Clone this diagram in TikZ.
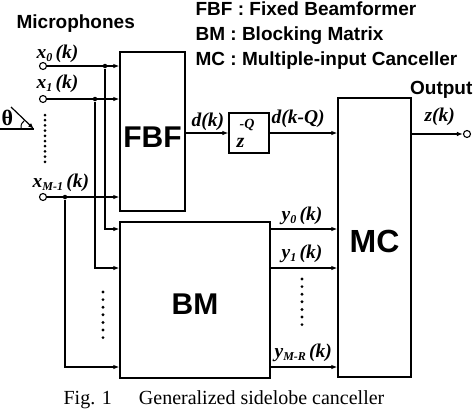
\documentclass[tikz,border=0pt]{standalone}
\usepackage{fontspec}
\setmainfont{Liberation Sans}
\newfontfamily\serifit{Liberation Serif}
\usetikzlibrary{arrows.meta}
\newcommand\sig[2]{{\serifit\bfseries\itshape #1\raisebox{-3.5pt}{\fontsize{12}{12}\selectfont #2}\,(k)}}
\newcommand\lowr[2]{\raisebox{-#1}[\height][\depth]{#2}}
\begin{document}
\begin{tikzpicture}[x=1pt,y=-1pt,
  line width=1.2pt,
  arr/.style={-{Latex[length=6pt,width=4.5pt]}},
  blk/.style={draw,line width=1.3pt,inner sep=0pt,font=\fontsize{30}{30}\selectfont\bfseries},
  mic/.style={draw,circle,fill=white,inner sep=0pt,minimum size=7pt,line width=1.1pt},
  jdot/.style={circle,fill=black,inner sep=0pt,minimum size=4.5pt},
  txt/.style={anchor=base west,inner sep=0pt,font=\fontsize{19}{22}\selectfont\bfseries},
  sg/.style={anchor=base west,inner sep=0pt,font=\fontsize{19.5}{20}\selectfont}]
\useasboundingbox (0,0) rectangle (474,410);

% blocks
\node[blk,minimum width=65pt,minimum height=159pt] (fbf) at (152.5,131.5) {\lowr{6pt}{FBF}};
\node[blk,minimum width=150pt,minimum height=156pt] (bm) at (195,300) {\lowr{4pt}{BM}};
\node[blk,minimum width=73pt,minimum height=279pt,font=\fontsize{32}{32}\selectfont\bfseries] (mc) at (374.5,237.5) {\lowr{4pt}{MC}};
\node[draw,line width=1.2pt,minimum width=40pt,minimum height=40pt,inner sep=0pt] (zq) at (249,133) {};
\node[anchor=base west,inner sep=0pt,font=\fontsize{20}{20}\selectfont\serifit\bfseries\itshape] (zz) at (236,147) {z};
\node[anchor=base west,inner sep=0pt,font=\fontsize{14}{14}\selectfont\serifit\bfseries\itshape] (zexp) at (239,128) {-Q};

% microphones
\node[mic] (m0) at (43,66) {};
\node[mic] (m1) at (43,99) {};
\node[mic] (mM) at (43,197) {};
\node[jdot] (j0) at (105,66) {};
\node[jdot] (j1) at (95,99) {};
\node[jdot] (jM) at (65,197) {};

\path (bm.west) ++(0,-71) coordinate (b0);
\path (bm.west) ++(0,-32) coordinate (b1);
\path (bm.west) ++(0,67) coordinate (bM);

\draw[arr] (m0) -- (m0 -| fbf.west);
\draw[arr] (m1) -- (m1 -| fbf.west);
\draw[arr] (mM) -- (mM -| fbf.west);
\draw[arr] (j0) |- (b0);
\draw[arr] (j1) |- (b1);
\draw[arr] (jM) |- (bM);

\draw[arr] (bm.east |- b0) -- (mc.west |- b0);
\draw[arr] (bm.east |- b1) -- (mc.west |- b1);
\draw[arr] (bm.east |- bM) -- (mc.west |- bM);

\draw[arr] (fbf.east |- zq) -- (zq.west);
\draw[arr] (zq.east) -- (zq.east -| mc.west);
\node[mic] (out) at (467,134) {};
\draw[arr] (mc.east |- out) -- (out.west);

% dots
\foreach \i in {0,...,9} \fill (45,115+5.2*\i) circle (1.5pt);
\foreach \i in {0,...,6} \fill (103,292+7.6*\i) circle (1.6pt);
\foreach \i in {0,...,6} \fill (302,279+7.6*\i) circle (1.6pt);

% theta
\coordinate (tv) at (34,129);
\coordinate (ts) at (11,107);
\draw (0,129) -- (tv);
\draw[arr] (ts) -- (tv);
\draw[line width=1pt] (21,129) .. controls (21,124) .. (24.5,120.5);
\node[anchor=base west,inner sep=0pt,font=\fontsize{22}{22}\selectfont\serifit\bfseries] (th) at (1,125) {θ};

% texts
\node[txt] (tmic) at (16,28) {Microphones};
\node[txt] (t1) at (195,15) {FBF : Fixed Beamformer};
\node[txt] (t2) at (195,40) {BM :\ Blocking Matrix};
\node[txt] (t3) at (195,65) {MC :\ Multiple-input Canceller};
\node[txt,anchor=base east] (tout) at (473,94) {Output};

\node[sg] (lx0) at (36,58) {\sig{x}{0}};
\node[sg] (lx1) at (36,88) {\sig{x}{1}};
\node[sg] (lxM) at (32,187) {\sig{x}{M-1}};
\node[sg] (ld) at (191,126) {{\serifit\bfseries\itshape d(k)}};
\node[sg] (ldq) at (271,123) {{\serifit\bfseries\itshape d(k-Q)}};
\node[sg] (lz) at (424,121) {{\serifit\bfseries\itshape z(k)}};
\node[sg] (ly0) at (281,220) {\sig{y}{0}};
\node[sg] (ly1) at (281,258) {\sig{y}{1}};
\node[sg] (lyM) at (274,357) {\sig{y}{M-R}};

\node[anchor=base west,inner sep=0pt,font=\fontsize{20}{20}\selectfont\serifit] (cap) at (63,404) {Fig. 1\hspace{27pt}Generalized sidelobe canceller};
\end{tikzpicture}
\end{document}
